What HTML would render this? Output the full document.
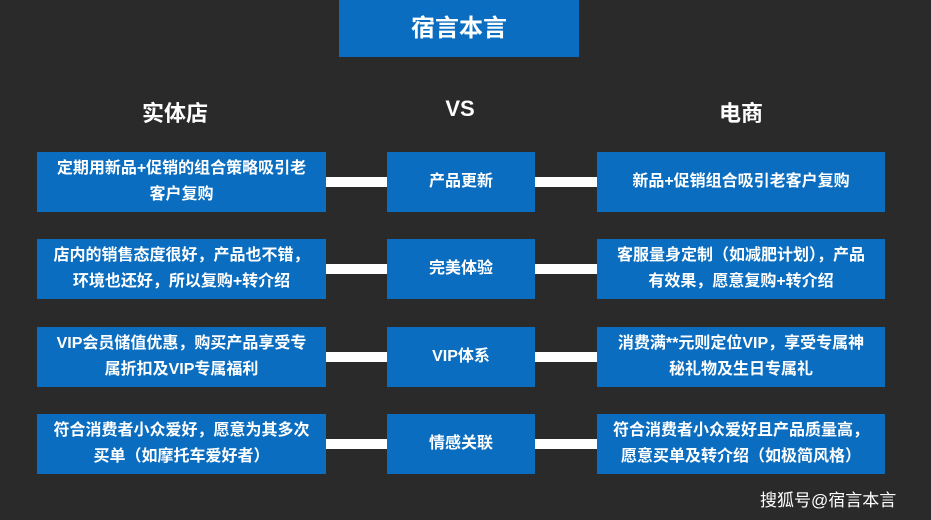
<!DOCTYPE html>
<html><head><meta charset="utf-8"><style>
body{margin:0;width:931px;height:520px;background:#2a2a2a;position:relative;overflow:hidden;font-family:"Liberation Sans","Noto Sans CJK SC",sans-serif;font-weight:bold;color:#fff}
.b{position:absolute;background:#0a6dbf;display:flex;align-items:center;justify-content:center;text-align:center;font-size:16px;line-height:26px;box-sizing:border-box;padding:0 4px;white-space:nowrap}
.h{position:absolute;font-size:22px;top:96px;width:200px;text-align:center}
.bar{position:absolute;height:10px;background:#fff}
</style></head><body>
<div class="b" style="left:339px;top:0;width:240px;height:57px;font-size:24px">宿言本言</div>
<div class="h" style="left:75px">实体店</div>
<div class="h" style="left:360px">VS</div>
<div class="h" style="left:641px">电商</div>

<div class="bar" style="left:326px;width:62px;top:177px"></div><div class="bar" style="left:535px;width:62px;top:177px"></div>
<div class="b" style="left:37px;top:152px;width:289px;height:60px">定期用新品+促销的组合策略吸引老<br>客户复购</div>
<div class="b" style="left:387px;top:152px;width:148px;height:60px">产品更新</div>
<div class="b" style="left:597px;top:152px;width:288px;height:60px">新品+促销组合吸引老客户复购</div>

<div class="bar" style="left:326px;width:62px;top:264px"></div><div class="bar" style="left:535px;width:62px;top:264px"></div>
<div class="b" style="left:37px;top:239px;width:289px;height:60px">店内的销售态度很好，产品也不错，<br>环境也还好，所以复购+转介绍</div>
<div class="b" style="left:387px;top:239px;width:148px;height:60px">完美体验</div>
<div class="b" style="left:597px;top:239px;width:288px;height:60px">客服量身定制（如减肥计划），产品<br>有效果，愿意复购+转介绍</div>

<div class="bar" style="left:326px;width:62px;top:352px"></div><div class="bar" style="left:535px;width:62px;top:352px"></div>
<div class="b" style="left:37px;top:327px;width:289px;height:60px">VIP会员储值优惠，购买产品享受专<br>属折扣及VIP专属福利</div>
<div class="b" style="left:387px;top:327px;width:148px;height:60px">VIP体系</div>
<div class="b" style="left:597px;top:327px;width:288px;height:60px">消费满**元则定位VIP，享受专属神<br>秘礼物及生日专属礼</div>

<div class="bar" style="left:326px;width:62px;top:439px"></div><div class="bar" style="left:535px;width:62px;top:439px"></div>
<div class="b" style="left:37px;top:414px;width:289px;height:60px">符合消费者小众爱好，愿意为其多次<br>买单（如摩托车爱好者）</div>
<div class="b" style="left:387px;top:414px;width:148px;height:60px">情感关联</div>
<div class="b" style="left:597px;top:414px;width:288px;height:60px">符合消费者小众爱好且产品质量高，<br>愿意买单及转介绍（如极简风格）</div>

<div style="position:absolute;left:760px;top:486px;font-size:17px;font-weight:normal">搜狐号@宿言本言</div>
</body></html>
